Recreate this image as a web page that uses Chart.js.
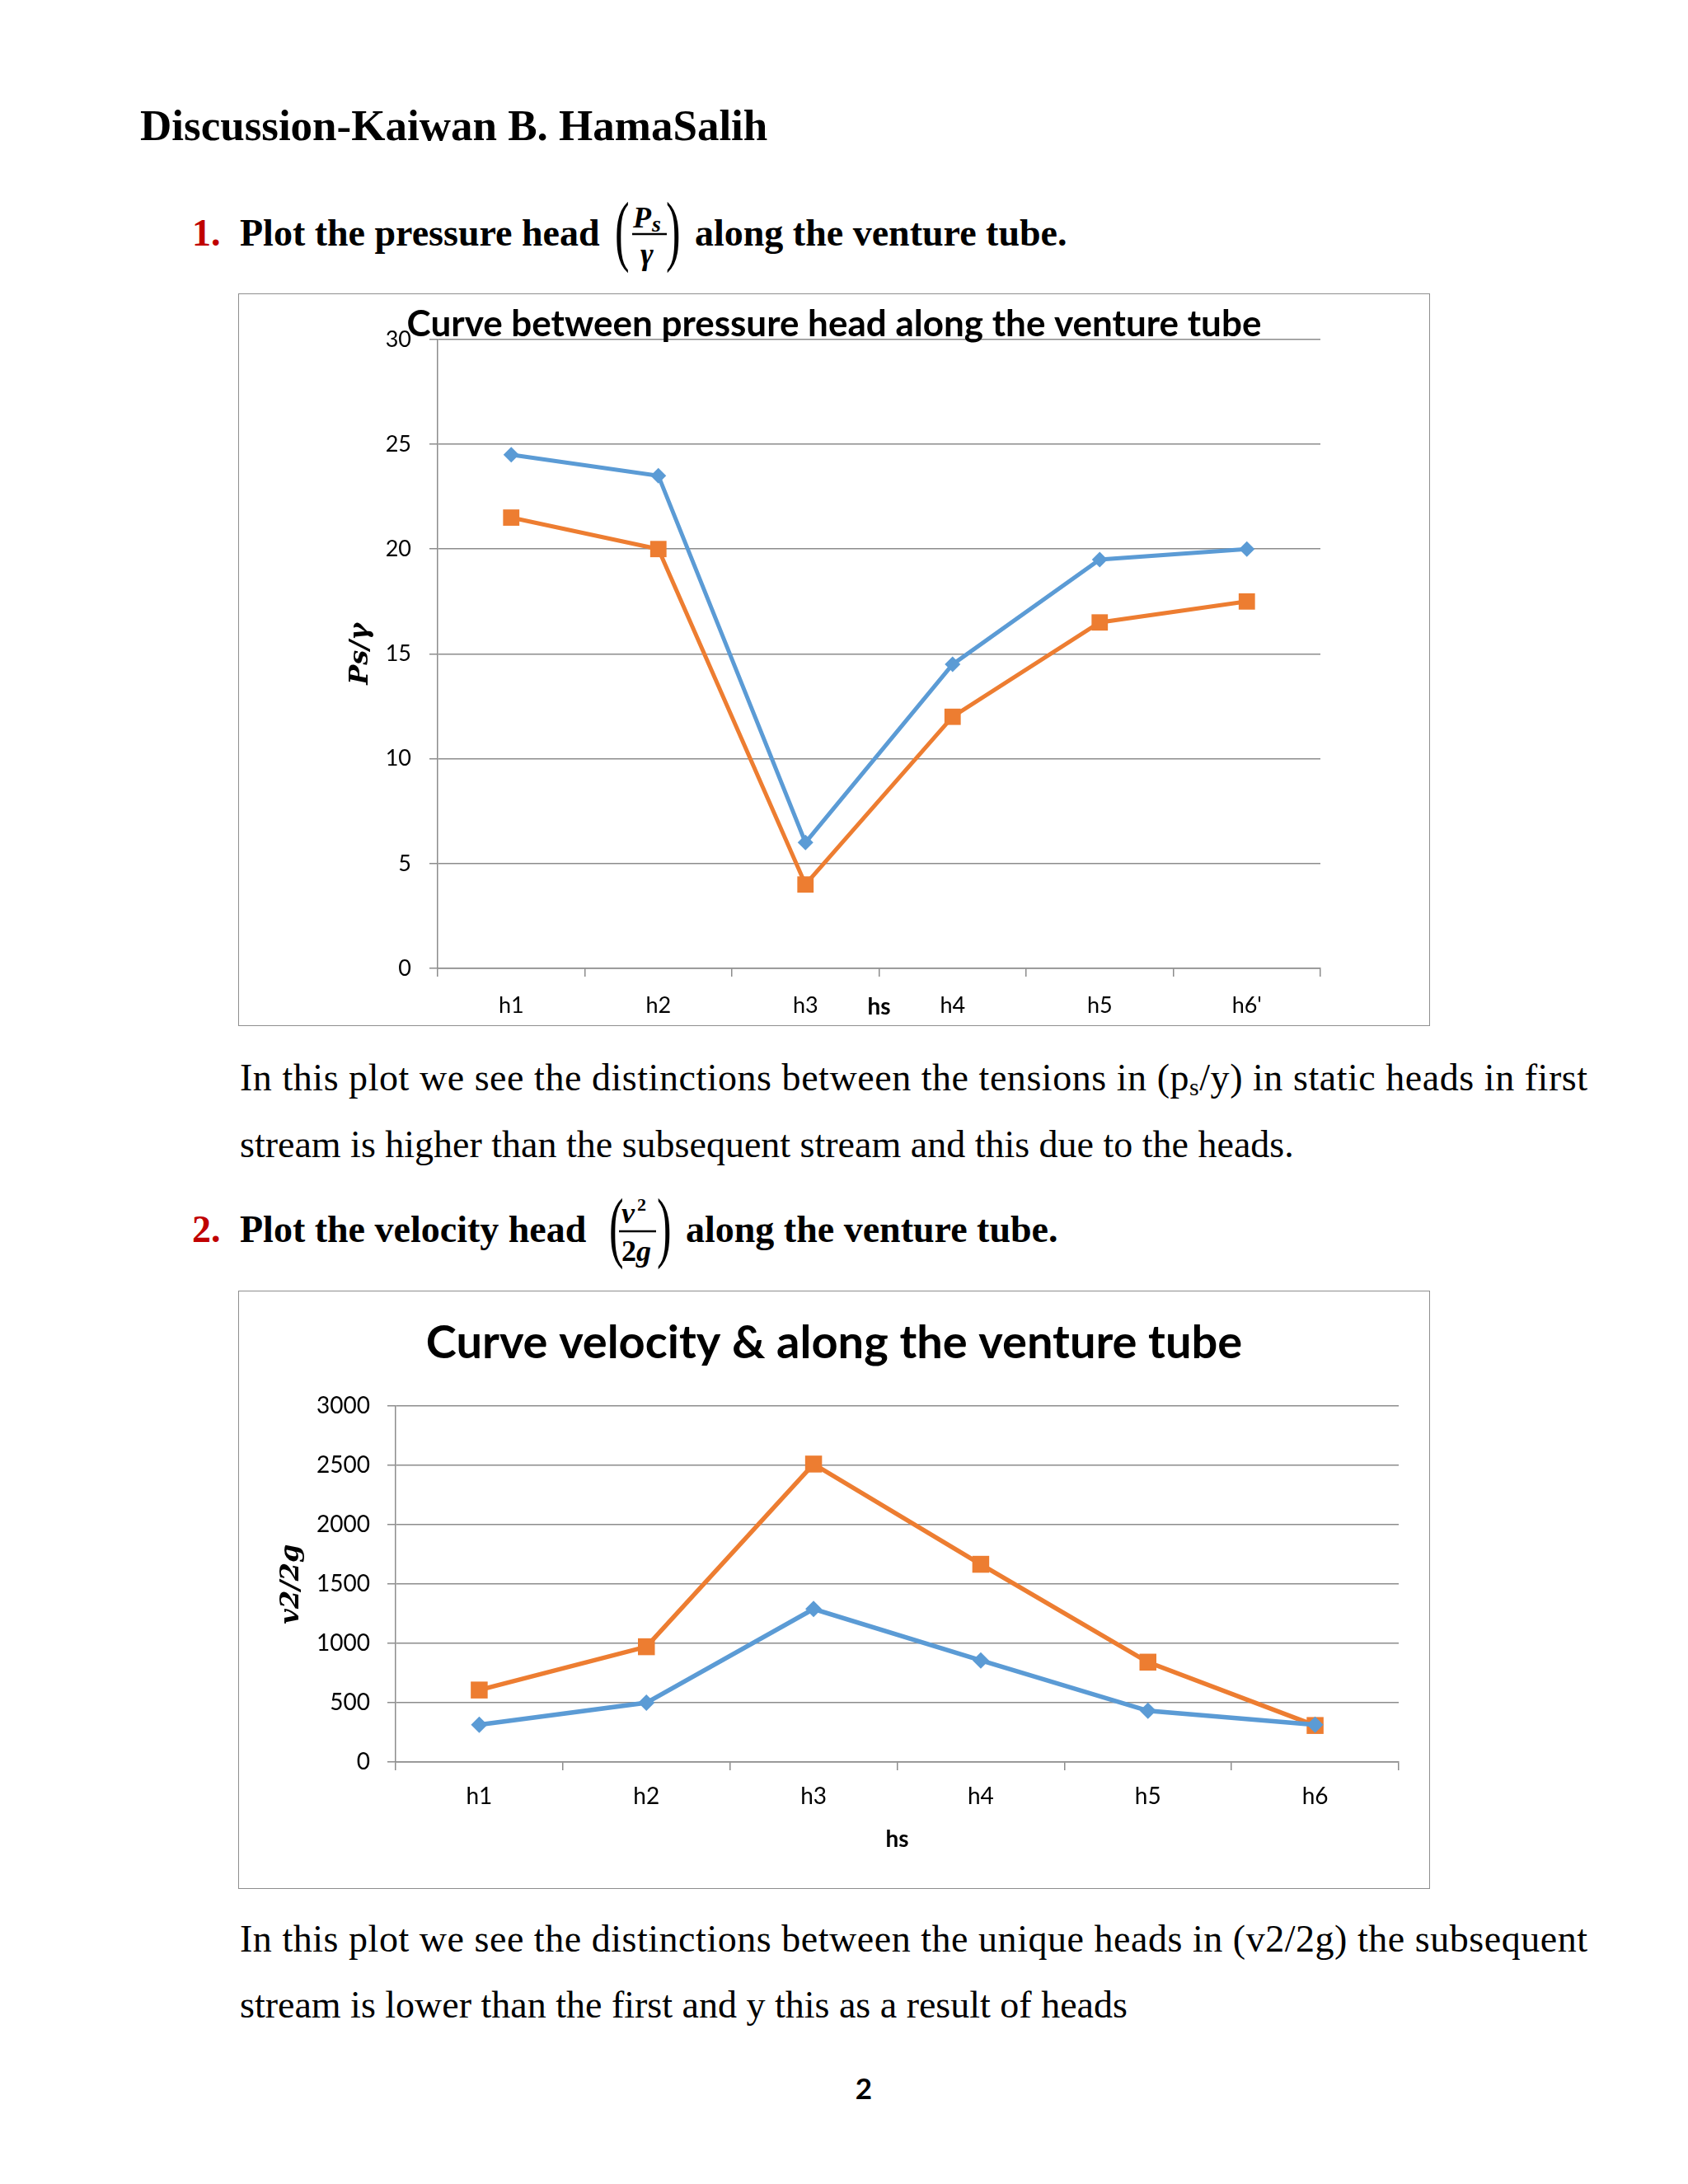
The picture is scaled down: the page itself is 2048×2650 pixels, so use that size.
<!DOCTYPE html>
<html lang="en">
<head>
  <meta charset="UTF-8">
  <title>Discussion - Kaiwan B. HamaSalih</title>
  <script src="https://cdn.jsdelivr.net/npm/chart.js"></script>
  <style>
    body {
      margin: 0;
      padding: 0;
      background: #ffffff;
      width: 2048px;
      height: 2650px;
      position: relative;
      overflow: hidden;
    }

    #pagina {
      position: absolute;
      left: 0;
      top: 0;
    }

    .caixa {
      position: absolute;
      box-sizing: border-box;
      border: 1.5px solid #8e8e8e;
    }

    .caixa canvas {
      position: absolute;
      left: -1px;
      top: -1px;
    }
  </style>
</head>
<body>

  <!-- texto da pagina -->
  <svg id="pagina" width="2048" height="2650" xmlns="http://www.w3.org/2000/svg">
    <g font-family="'Liberation Serif', 'Times New Roman', serif" fill="#000">
      <text x="170" y="170" font-size="53" font-weight="bold">Discussion-Kaiwan B. HamaSalih</text>

      <!-- pergunta 1 -->
      <text x="233" y="298" font-size="46" font-weight="bold" fill="#c00000">1.</text>
      <text x="291" y="298" font-size="46" font-weight="bold">Plot the pressure head</text>
      <text transform="translate(746,311) scale(0.55,1)" font-size="96">(</text>
      <text x="768" y="276" font-size="36" font-weight="bold" font-style="italic">P</text>
      <text x="791" y="281" font-size="28" font-weight="bold" font-style="italic">s</text>
      <line x1="767" y1="284" x2="809" y2="284" stroke="#000" stroke-width="2.5"/>
      <text x="777" y="321" font-size="38" font-weight="bold" font-style="italic">γ</text>
      <text transform="translate(808,311) scale(0.55,1)" font-size="96">)</text>
      <text x="843" y="298" font-size="46" font-weight="bold">along the venture tube.</text>

      <!-- paragrafo 1 -->
      <text x="291" y="1323" font-size="46" textLength="1635" lengthAdjust="spacing">In this plot we see the distinctions between the tensions in (p<tspan font-size="30" dy="6">s</tspan><tspan dy="-6">/y) in static heads in first</tspan></text>
      <text x="291" y="1404" font-size="46">stream is higher than the subsequent stream and this due to the heads.</text>

      <!-- pergunta 2 -->
      <text x="233" y="1507" font-size="46" font-weight="bold" fill="#c00000">2.</text>
      <text x="291" y="1507" font-size="46" font-weight="bold">Plot the velocity head</text>
      <text transform="translate(739,1520) scale(0.55,1)" font-size="96">(</text>
      <text x="754" y="1484" font-size="36" font-weight="bold" font-style="italic">v</text>
      <text x="773" y="1469" font-size="22" font-weight="bold">2</text>
      <line x1="751" y1="1494" x2="796" y2="1494" stroke="#000" stroke-width="2.5"/>
      <text x="754" y="1530" font-size="36" font-weight="bold">2<tspan font-style="italic">g</tspan></text>
      <text transform="translate(797,1520) scale(0.55,1)" font-size="96">)</text>
      <text x="832" y="1507" font-size="46" font-weight="bold">along the venture tube.</text>

      <!-- paragrafo 2 -->
      <text x="291" y="2368" font-size="46" textLength="1635" lengthAdjust="spacing">In this plot we see the distinctions between the unique heads in (v2/2g) the subsequent</text>
      <text x="291" y="2448" font-size="46">stream is lower than the first and y this as a result of heads</text>
    </g>
    <text x="1048" y="2547" font-family="Lato, sans-serif" font-size="35" font-weight="bold" text-anchor="middle">2</text>
  </svg>

  <div class="caixa" style="left:289px; top:356px; width:1446px; height:889px;">
    <canvas id="pressaoChart" width="1446" height="889"></canvas>
  </div>

  <div class="caixa" style="left:289px; top:1566px; width:1446px; height:726px;">
    <canvas id="velocidadeChart" width="1446" height="726"></canvas>
  </div>

  <script>
    // ---- dados grafico 1 (Ps/y) ----
    const categoriasPressao = ['h1', 'h2', 'h3', 'h4', 'h5', "h6'"];
    const pressaoAzul = [24.5, 23.5, 6, 14.5, 19.5, 20];
    const pressaoLaranja = [21.5, 20, 4, 12, 16.5, 17.5];
    const pressaoMax = 30;
    const pressaoPasso = 5;

    // ---- dados grafico 2 (v2/2g) ----
    const categoriasVelocidade = ['h1', 'h2', 'h3', 'h4', 'h5', 'h6'];
    const velocidadeAzul = [315, 500, 1290, 857, 432, 315];
    const velocidadeLaranja = [607, 972, 2512, 1667, 842, 308];
    const velocidadeMax = 3000;
    const velocidadePasso = 500;

    const cores = {
      azul: '#5b9bd5',
      laranja: '#ed7d31',
      grade: '#8c8c8c',
      texto: '#000000'
    };

    Chart.defaults.font.family = 'Lato, sans-serif';
    Chart.defaults.color = cores.texto;

    function serie(dados, cor, estilo, raio, espessura) {
      return {
        data: dados,
        borderColor: cor,
        backgroundColor: cor,
        borderWidth: espessura,
        pointStyle: estilo,
        pointRadius: raio,
        pointBorderWidth: 0,
        tension: 0,
        clip: false
      };
    }

    // eixo invisivel na direita, so para reservar espaco (o titulo fica centrado na caixa toda)
    function margemDireita(largura) {
      return {
        position: 'right',
        display: true,
        ticks: { display: false },
        grid: { display: false },
        border: { display: false },
        afterFit(escala) { escala.width = largura; }
      };
    }

    // grafico 1
    new Chart(document.getElementById('pressaoChart'), {
      type: 'line',
      data: {
        labels: categoriasPressao,
        datasets: [
          serie(pressaoAzul, cores.azul, 'rectRot', 9.5, 5),
          serie(pressaoLaranja, cores.laranja, 'rect', 14, 5)
        ]
      },
      options: {
        responsive: false,
        animation: false,
        events: [],
        layout: { padding: 0 },
        plugins: {
          legend: { display: false },
          tooltip: { enabled: false },
          title: {
            display: true,
            text: 'Curve between pressure head along the venture tube',
            color: cores.texto,
            font: { size: 44, weight: 'bold' },
            padding: { top: 11, bottom: -8 }
          }
        },
        scales: {
          x: {
            offset: true,
            grid: { offset: true, drawOnChartArea: false, tickLength: 10, color: cores.grade, lineWidth: 1.5 },
            border: { color: cores.grade, width: 1.5 },
            ticks: { font: { size: 27 }, padding: 19, color: cores.texto },
            title: { display: true, text: 'hs', font: { size: 28, weight: 'bold' }, color: cores.texto, padding: { top: 0, bottom: 6 } },
            afterFit(escala) { escala.height = 70; }
          },
          y: {
            min: 0,
            max: pressaoMax,
            ticks: { stepSize: pressaoPasso, font: { size: 27 }, padding: 22, color: cores.texto },
            grid: { color: cores.grade, lineWidth: 1.5, tickLength: 10 },
            border: { color: cores.grade, width: 1.5 },
            title: {
              display: true,
              text: 'Ps/γ',
              color: cores.texto,
              font: { family: "'DejaVu Serif', serif", style: 'italic', weight: 'bold', size: 32 },
              padding: { top: 129, bottom: 0 }
            },
            afterFit(escala) { escala.width = 242; }
          },
          margem: margemDireita(133)
        }
      }
    });

    // grafico 2
    new Chart(document.getElementById('velocidadeChart'), {
      type: 'line',
      data: {
        labels: categoriasVelocidade,
        datasets: [
          serie(velocidadeAzul, cores.azul, 'rectRot', 10, 5.5),
          serie(velocidadeLaranja, cores.laranja, 'rect', 14.5, 5.5)
        ]
      },
      options: {
        responsive: false,
        animation: false,
        events: [],
        layout: { padding: 0 },
        plugins: {
          legend: { display: false },
          tooltip: { enabled: false },
          title: {
            display: true,
            text: 'Curve velocity & along the venture tube',
            color: cores.texto,
            font: { size: 56, weight: 'bold' },
            padding: { top: 30, bottom: 43 }
          }
        },
        scales: {
          x: {
            offset: true,
            grid: { offset: true, drawOnChartArea: false, tickLength: 10, color: cores.grade, lineWidth: 1.5 },
            border: { color: cores.grade, width: 1.5 },
            ticks: { font: { size: 28 }, padding: 15, color: cores.texto },
            title: { display: true, text: 'hs', font: { size: 28, weight: 'bold' }, color: cores.texto, padding: { top: 0, bottom: 43 } },
            afterFit(escala) { escala.height = 154; }
          },
          y: {
            min: 0,
            max: velocidadeMax,
            ticks: {
              stepSize: velocidadePasso,
              format: { useGrouping: false },
              font: { size: 28 },
              padding: 21,
              color: cores.texto
            },
            grid: { color: cores.grade, lineWidth: 1.5, tickLength: 10 },
            border: { color: cores.grade, width: 1.5 },
            title: {
              display: true,
              text: 'v2/2g',
              color: cores.texto,
              font: { family: "'DejaVu Serif', serif", style: 'italic', weight: 'bold', size: 32 },
              padding: { top: 45, bottom: 0 }
            },
            afterFit(escala) { escala.width = 191; }
          },
          margem: margemDireita(38)
        }
      }
    });
  </script>
</body>
</html>
